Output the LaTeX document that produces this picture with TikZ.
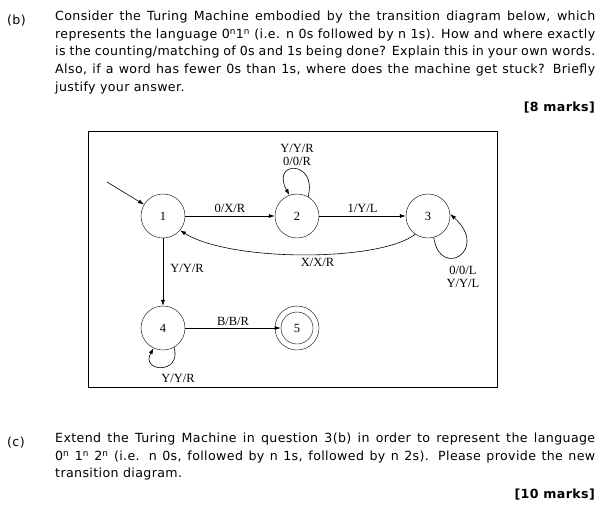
\documentclass[tikz,border=0pt]{standalone}
\usepackage{fontspec}
\setmainfont{DejaVu Sans}[LetterSpace=3]
\newfontfamily\tms{Liberation Serif}
\usetikzlibrary{arrows.meta}
\begin{document}
\begin{tikzpicture}[x=1pt,y=-1pt,
  st/.style={circle,draw,minimum size=44pt,inner sep=0pt,font=\tms\fontsize{12.5}{12}\selectfont},
  lab/.style={font=\tms\fontsize{12.5}{13}\selectfont,inner sep=1pt,align=center},
  ar/.style={-{Latex[length=6pt,width=4pt]},line width=0.6pt},
  para/.style={anchor=north west,text width=540pt,align=justify,inner sep=0pt,font=\fontsize{12.6}{17.6}\selectfont}]
\useasboundingbox (0,0) rectangle (616,512);
\node[anchor=base west,inner sep=0pt,font=\fontsize{12.6}{14}\selectfont] (b) at (7,24) {(b)};
\node[para] (pb) at (55,11) {Consider the Turing Machine embodied by the transition diagram below, which represents the language 0\textsuperscript{n}1\textsuperscript{n} (i.e. n 0s followed by n 1s). How and where exactly is the counting/matching of 0s and 1s being done? Explain this in your own words. Also, if a word has fewer 0s than 1s, where does the machine get stuck? Briefly justify your answer.};
\node[anchor=base east,inner sep=0pt,font=\bfseries\fontsize{12.6}{14}\selectfont] (m8) at (595,111) {[8 marks]};
\node[draw,line width=0.6pt,minimum width=409pt,minimum height=256pt,anchor=north west] (frame) at (88,131) {};
\node[st] (s1) at (163,216) {1};
\node[st] (s2) at (297,216) {2};
\node[st] (s3) at (428,216) {3};
\node[st] (s4) at (163,328) {4};
\node[st] (s5) at (297,328) {5};
\node[circle,draw,minimum size=32pt] (s5i) at (s5) {};
\coordinate (init) at (107,182);
\draw[ar] (init) -- (s1);
\draw[ar] (s1) -- node[lab,above=2pt] {0/X/R} (s2);
\draw[ar] (s2) -- node[lab,above=2pt] {1/Y/L} (s3);
\draw[ar] (s1) -- node[lab,right=6pt,pos=0.45] {Y/Y/R} (s4);
\draw[ar] (s4) -- node[lab,above=1pt] {B/B/R} (s5i);
\draw[ar] (s3.235) .. controls (380,262) and (230,262) .. node[lab,below=2pt,pos=0.45] {X/X/R} (s1.-40);
\draw[ar] (s2.60) .. controls (318,160) and (270,160) .. (s2.110);
\node[lab] (l2) at (297,155) {Y/Y/R\\0/0/R};
\draw[ar] (s3.-75) .. controls (440,280) and (490,250) .. (s3.5);
\node[lab] (l3) at (463,277) {0/0/L\\Y/Y/L};
\draw[ar] (s4.-60) .. controls (182,375) and (140,372) .. (s4.-115);
\node[lab] (l4) at (178,378) {Y/Y/R};
\node[anchor=base west,inner sep=0pt,font=\fontsize{12.6}{14}\selectfont] (c) at (7,446) {(c)};
\node[para] (pc) at (55,433) {Extend the Turing Machine in question 3(b) in order to represent the language\linebreak 0\textsuperscript{n} 1\textsuperscript{n} 2\textsuperscript{n} (i.e. n 0s, followed by n 1s, followed by n 2s). Please provide the new\linebreak transition diagram.};
\node[anchor=base east,inner sep=0pt,font=\bfseries\fontsize{12.6}{14}\selectfont] (m10) at (595,498) {[10 marks]};
\end{tikzpicture}
\end{document}
